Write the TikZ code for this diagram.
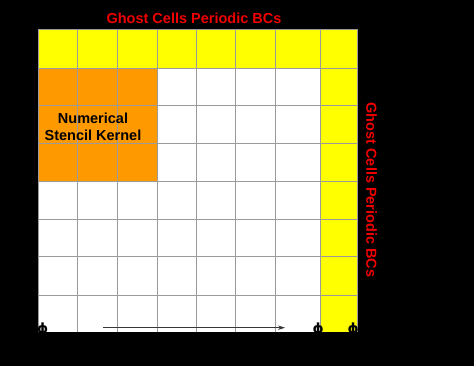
\documentclass[tikz,border=0pt]{standalone}
\usepackage{fontspec}
\setmainfont{Liberation Sans}
\newfontfamily\phifont{DejaVu Sans}
\usetikzlibrary{arrows.meta}
\definecolor{ghost}{RGB}{255,255,0}
\definecolor{kern}{RGB}{255,153,0}
\definecolor{gridgray}{RGB}{155,155,155}
\definecolor{titlered}{RGB}{240,0,0}
\definecolor{arrowgray}{RGB}{55,55,55}
\begin{document}
\begin{tikzpicture}[x=1pt,y=-1pt,
  lbl/.style={font=\fontsize{14.5}{17}\selectfont\bfseries, inner sep=0pt},
  gline/.style={draw=gridgray, line width=0.9pt},
  philbl/.style={font=\phifont\fontsize{14}{16}\selectfont\bfseries, inner sep=0pt, anchor=base, text=black}]
\fill[black] (0,0) rectangle (474,366);
\useasboundingbox (0,0) rectangle (474,366);
% cells
\fill[white] (38,68.3) rectangle (320.7,332.3);
\fill[ghost] (38,29.3) rectangle (357,68.3);
\fill[ghost] (320.7,68.3) rectangle (357,332.3);
\fill[kern] (38,68.3) rectangle (157,181);
% grid lines
\foreach \x in {38,77.7,117.3,157,196.4,235.8,275.3,320.7,357}
  \draw[gline] (\x,29.3) -- (\x,332.3);
\foreach \y in {29.3,68.3,105.7,143.3,181,219,256.7,295}
  \draw[gline] (38,\y) -- (357,\y);
% labels
\node[lbl, text=titlered] (top) at (194,18) {Ghost Cells Periodic BCs};
\node[lbl, text=titlered, rotate=-90] (side) at (371.5,190) {Ghost Cells Periodic BCs};
\node[lbl, text=black, align=center] (kernel) at (93,127) {Numerical\\Stencil Kernel};
% phi labels
\node[philbl] (p0) at (42.7,333.5) {ϕ};
\node[philbl] (p1) at (318.3,333.5) {ϕ};
\node[philbl] (p2) at (353.3,333.5) {ϕ};
% arrow
\coordinate (a1) at (103,327.7);
\coordinate (a2) at (285,327.7);
\draw[draw=arrowgray, line width=1pt, -{Stealth[length=7pt,width=4.5pt]}] (a1) -- (a2);
\end{tikzpicture}
\end{document}
